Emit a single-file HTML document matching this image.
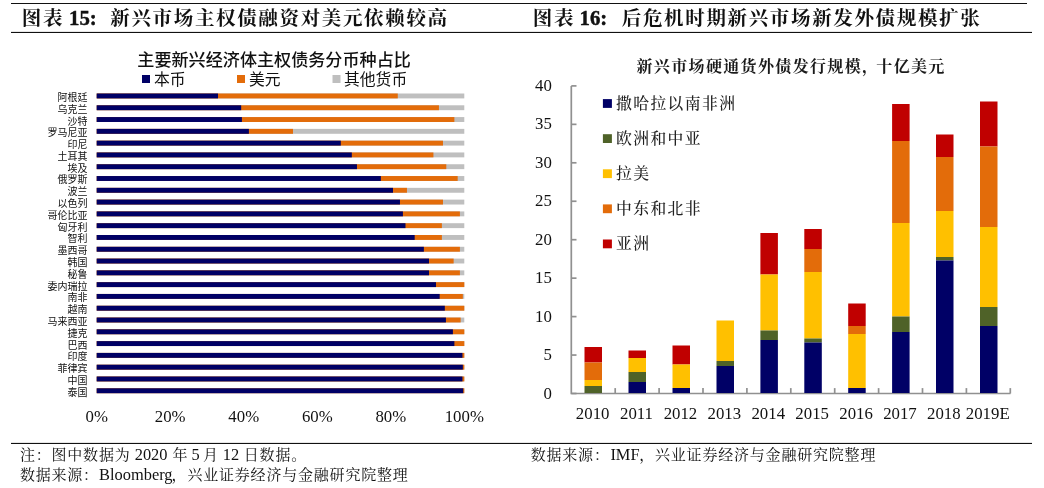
<!DOCTYPE html>
<html lang="zh-CN"><head><meta charset="utf-8"><title>图表 15 / 图表 16</title>
<style>
html,body{margin:0;padding:0;background:#fff;}
body{width:1044px;height:488px;overflow:hidden;position:relative;}
svg{position:absolute;left:0;top:0;display:block;}
.kai{font-family:"Liberation Serif","Noto Serif CJK SC",serif;}
.ttl{font-family:"Liberation Serif","Noto Serif CJK SC",serif;font-weight:700;font-size:19.5px;fill:#111;}
.src{font-family:"Liberation Serif","Noto Serif CJK SC",serif;font-size:15px;fill:#111;}
.hei{font-family:"Liberation Sans","Noto Sans CJK SC",sans-serif;}
.song{font-family:"Liberation Serif","Noto Serif CJK SC",serif;}
.num{font-family:"Liberation Serif",serif;font-size:16.8px;fill:#111;}
.lab{font-family:"Liberation Sans","Noto Sans CJK SC",sans-serif;font-size:10px;fill:#111;}
</style></head><body>
<svg width="1044" height="488" viewBox="0 0 1044 488">
<rect width="1044" height="488" fill="#ffffff"/>
<g fill="#111">
<rect x="11" y="3" width="1016" height="1"/>
<rect x="11" y="31.9" width="1021" height="1.1"/>
<rect x="11" y="442.9" width="1021" height="1.1"/>
</g>
<text class="ttl" x="21.8" y="25.2" letter-spacing="1.65">图表</text>
<text class="ttl" x="69.0" y="25.2" style="font-size:20.8px" stroke="#111" stroke-width="0.45">15:</text>
<text class="ttl" x="110.3" y="25.2" letter-spacing="1.65">新兴市场主权债融资对美元依赖较高</text>
<text class="ttl" x="532.8" y="25.2" letter-spacing="1.65">图表</text>
<text class="ttl" x="579.5" y="25.2" style="font-size:20.8px" stroke="#111" stroke-width="0.45">16:</text>
<text class="ttl" x="621.8" y="25.2" letter-spacing="1.65">后危机时期新兴市场新发外债规模扩张</text>
<text class="src" x="19.9" y="460.2" letter-spacing="0.8">注：</text>
<text class="src" x="51.5" y="460.2" letter-spacing="0.8">图中数据为</text>
<text class="num" x="134.7" y="460.2" style="font-size:16.4px">2020</text>
<text class="src" x="172.4" y="460.2" >年</text>
<text class="num" x="191.5" y="460.2" style="font-size:16.4px">5</text>
<text class="src" x="203" y="460.2" >月</text>
<text class="num" x="222.8" y="460.2" style="font-size:16.4px">12</text>
<text class="src" x="243.8" y="460.2" letter-spacing="0.8">日数据。</text>
<text class="src" x="19.9" y="480.1" letter-spacing="0.8">数据来源：</text>
<text class="num" x="99.1" y="480.1" style="font-size:16.4px">Bloomberg</text>
<text class="src" x="171.6" y="480.1" letter-spacing="0.8">，兴业证券经济与金融研究院整理</text>
<text class="src" x="530.7" y="460.2" letter-spacing="0.8">数据来源：</text>
<text class="num" x="610.4" y="460.2" style="font-size:16.4px">IMF</text>
<text class="src" x="639.2" y="460.2" letter-spacing="0.8">，兴业证券经济与金融研究院整理</text>
<text class="hei" x="274.1" y="65.5" style="font-size:17.1px" font-weight="500" text-anchor="middle" fill="#111">主要新兴经济体主权债务分币种占比</text>
<rect x="142" y="75" width="8" height="8" fill="#000066"/>
<text class="hei" x="154" y="85" style="font-size:15.8px" fill="#111">本币</text>
<rect x="237" y="75" width="8" height="8" fill="#e36c0a"/>
<text class="hei" x="249" y="85" style="font-size:15.8px" fill="#111">美元</text>
<rect x="332.5" y="75" width="8" height="8" fill="#bfbfbf"/>
<text class="hei" x="344" y="85" style="font-size:15.8px" fill="#111">其他货币</text>
<rect x="96.70" y="93.50" width="367.60" height="4.9" fill="#bfbfbf"/>
<rect x="96.70" y="93.50" width="301.06" height="4.9" fill="#e36c0a"/>
<rect x="96.70" y="93.50" width="121.31" height="4.9" fill="#000066"/>
<text class="lab" x="87.5" y="100.95" text-anchor="end">阿根廷</text>
<rect x="96.70" y="105.29" width="367.60" height="4.9" fill="#bfbfbf"/>
<rect x="96.70" y="105.29" width="342.24" height="4.9" fill="#e36c0a"/>
<rect x="96.70" y="105.29" width="144.47" height="4.9" fill="#000066"/>
<text class="lab" x="87.5" y="112.74" text-anchor="end">乌克兰</text>
<rect x="96.70" y="117.08" width="367.60" height="4.9" fill="#bfbfbf"/>
<rect x="96.70" y="117.08" width="357.67" height="4.9" fill="#e36c0a"/>
<rect x="96.70" y="117.08" width="145.20" height="4.9" fill="#000066"/>
<text class="lab" x="87.5" y="124.53" text-anchor="end">沙特</text>
<rect x="96.70" y="128.88" width="367.60" height="4.9" fill="#bfbfbf"/>
<rect x="96.70" y="128.88" width="196.30" height="4.9" fill="#e36c0a"/>
<rect x="96.70" y="128.88" width="152.19" height="4.9" fill="#000066"/>
<text class="lab" x="87.5" y="136.33" text-anchor="end">罗马尼亚</text>
<rect x="96.70" y="140.67" width="367.60" height="4.9" fill="#bfbfbf"/>
<rect x="96.70" y="140.67" width="346.28" height="4.9" fill="#e36c0a"/>
<rect x="96.70" y="140.67" width="244.09" height="4.9" fill="#000066"/>
<text class="lab" x="87.5" y="148.12" text-anchor="end">印尼</text>
<rect x="96.70" y="152.46" width="367.60" height="4.9" fill="#bfbfbf"/>
<rect x="96.70" y="152.46" width="336.72" height="4.9" fill="#e36c0a"/>
<rect x="96.70" y="152.46" width="255.11" height="4.9" fill="#000066"/>
<text class="lab" x="87.5" y="159.91" text-anchor="end">土耳其</text>
<rect x="96.70" y="164.25" width="367.60" height="4.9" fill="#bfbfbf"/>
<rect x="96.70" y="164.25" width="349.59" height="4.9" fill="#e36c0a"/>
<rect x="96.70" y="164.25" width="260.26" height="4.9" fill="#000066"/>
<text class="lab" x="87.5" y="171.70" text-anchor="end">埃及</text>
<rect x="96.70" y="176.04" width="367.60" height="4.9" fill="#bfbfbf"/>
<rect x="96.70" y="176.04" width="360.98" height="4.9" fill="#e36c0a"/>
<rect x="96.70" y="176.04" width="284.15" height="4.9" fill="#000066"/>
<text class="lab" x="87.5" y="183.49" text-anchor="end">俄罗斯</text>
<rect x="96.70" y="187.84" width="367.60" height="4.9" fill="#bfbfbf"/>
<rect x="96.70" y="187.84" width="310.25" height="4.9" fill="#e36c0a"/>
<rect x="96.70" y="187.84" width="296.29" height="4.9" fill="#000066"/>
<text class="lab" x="87.5" y="195.29" text-anchor="end">波兰</text>
<rect x="96.70" y="199.63" width="367.60" height="4.9" fill="#bfbfbf"/>
<rect x="96.70" y="199.63" width="346.28" height="4.9" fill="#e36c0a"/>
<rect x="96.70" y="199.63" width="303.27" height="4.9" fill="#000066"/>
<text class="lab" x="87.5" y="207.08" text-anchor="end">以色列</text>
<rect x="96.70" y="211.42" width="367.60" height="4.9" fill="#bfbfbf"/>
<rect x="96.70" y="211.42" width="363.19" height="4.9" fill="#e36c0a"/>
<rect x="96.70" y="211.42" width="306.21" height="4.9" fill="#000066"/>
<text class="lab" x="87.5" y="218.87" text-anchor="end">哥伦比亚</text>
<rect x="96.70" y="223.21" width="367.60" height="4.9" fill="#bfbfbf"/>
<rect x="96.70" y="223.21" width="345.18" height="4.9" fill="#e36c0a"/>
<rect x="96.70" y="223.21" width="308.78" height="4.9" fill="#000066"/>
<text class="lab" x="87.5" y="230.66" text-anchor="end">匈牙利</text>
<rect x="96.70" y="235.00" width="367.60" height="4.9" fill="#bfbfbf"/>
<rect x="96.70" y="235.00" width="345.18" height="4.9" fill="#e36c0a"/>
<rect x="96.70" y="235.00" width="317.97" height="4.9" fill="#000066"/>
<text class="lab" x="87.5" y="242.45" text-anchor="end">智利</text>
<rect x="96.70" y="246.80" width="367.60" height="4.9" fill="#bfbfbf"/>
<rect x="96.70" y="246.80" width="363.19" height="4.9" fill="#e36c0a"/>
<rect x="96.70" y="246.80" width="327.16" height="4.9" fill="#000066"/>
<text class="lab" x="87.5" y="254.25" text-anchor="end">墨西哥</text>
<rect x="96.70" y="258.59" width="367.60" height="4.9" fill="#bfbfbf"/>
<rect x="96.70" y="258.59" width="356.94" height="4.9" fill="#e36c0a"/>
<rect x="96.70" y="258.59" width="332.31" height="4.9" fill="#000066"/>
<text class="lab" x="87.5" y="266.04" text-anchor="end">韩国</text>
<rect x="96.70" y="270.38" width="367.60" height="4.9" fill="#bfbfbf"/>
<rect x="96.70" y="270.38" width="363.19" height="4.9" fill="#e36c0a"/>
<rect x="96.70" y="270.38" width="332.31" height="4.9" fill="#000066"/>
<text class="lab" x="87.5" y="277.83" text-anchor="end">秘鲁</text>
<rect x="96.70" y="282.17" width="367.60" height="4.9" fill="#bfbfbf"/>
<rect x="96.70" y="282.17" width="367.60" height="4.9" fill="#e36c0a"/>
<rect x="96.70" y="282.17" width="339.29" height="4.9" fill="#000066"/>
<text class="lab" x="87.5" y="289.62" text-anchor="end">委内瑞拉</text>
<rect x="96.70" y="293.96" width="367.60" height="4.9" fill="#bfbfbf"/>
<rect x="96.70" y="293.96" width="366.13" height="4.9" fill="#e36c0a"/>
<rect x="96.70" y="293.96" width="342.97" height="4.9" fill="#000066"/>
<text class="lab" x="87.5" y="301.41" text-anchor="end">南非</text>
<rect x="96.70" y="305.76" width="367.60" height="4.9" fill="#bfbfbf"/>
<rect x="96.70" y="305.76" width="367.60" height="4.9" fill="#e36c0a"/>
<rect x="96.70" y="305.76" width="348.12" height="4.9" fill="#000066"/>
<text class="lab" x="87.5" y="313.21" text-anchor="end">越南</text>
<rect x="96.70" y="317.55" width="367.60" height="4.9" fill="#bfbfbf"/>
<rect x="96.70" y="317.55" width="363.92" height="4.9" fill="#e36c0a"/>
<rect x="96.70" y="317.55" width="349.22" height="4.9" fill="#000066"/>
<text class="lab" x="87.5" y="325.00" text-anchor="end">马来西亚</text>
<rect x="96.70" y="329.34" width="367.60" height="4.9" fill="#bfbfbf"/>
<rect x="96.70" y="329.34" width="367.60" height="4.9" fill="#e36c0a"/>
<rect x="96.70" y="329.34" width="356.20" height="4.9" fill="#000066"/>
<text class="lab" x="87.5" y="336.79" text-anchor="end">捷克</text>
<rect x="96.70" y="341.13" width="367.60" height="4.9" fill="#bfbfbf"/>
<rect x="96.70" y="341.13" width="367.60" height="4.9" fill="#e36c0a"/>
<rect x="96.70" y="341.13" width="357.67" height="4.9" fill="#000066"/>
<text class="lab" x="87.5" y="348.58" text-anchor="end">巴西</text>
<rect x="96.70" y="352.92" width="367.60" height="4.9" fill="#bfbfbf"/>
<rect x="96.70" y="352.92" width="367.60" height="4.9" fill="#e36c0a"/>
<rect x="96.70" y="352.92" width="365.76" height="4.9" fill="#000066"/>
<text class="lab" x="87.5" y="360.37" text-anchor="end">印度</text>
<rect x="96.70" y="364.72" width="367.60" height="4.9" fill="#bfbfbf"/>
<rect x="96.70" y="364.72" width="367.60" height="4.9" fill="#e36c0a"/>
<rect x="96.70" y="364.72" width="366.13" height="4.9" fill="#000066"/>
<text class="lab" x="87.5" y="372.17" text-anchor="end">菲律宾</text>
<rect x="96.70" y="376.51" width="367.60" height="4.9" fill="#bfbfbf"/>
<rect x="96.70" y="376.51" width="367.60" height="4.9" fill="#e36c0a"/>
<rect x="96.70" y="376.51" width="365.76" height="4.9" fill="#000066"/>
<text class="lab" x="87.5" y="383.96" text-anchor="end">中国</text>
<rect x="96.70" y="388.30" width="367.60" height="4.9" fill="#bfbfbf"/>
<rect x="96.70" y="388.30" width="367.60" height="4.9" fill="#e36c0a"/>
<rect x="96.70" y="388.30" width="366.50" height="4.9" fill="#000066"/>
<text class="lab" x="87.5" y="395.75" text-anchor="end">泰国</text>
<text class="num" x="96.70" y="422" text-anchor="middle" style="font-size:16.8px">0%</text>
<text class="num" x="170.22" y="422" text-anchor="middle" style="font-size:16.8px">20%</text>
<text class="num" x="243.74" y="422" text-anchor="middle" style="font-size:16.8px">40%</text>
<text class="num" x="317.26" y="422" text-anchor="middle" style="font-size:16.8px">60%</text>
<text class="num" x="390.78" y="422" text-anchor="middle" style="font-size:16.8px">80%</text>
<text class="num" x="464.30" y="422" text-anchor="middle" style="font-size:16.8px">100%</text>
<text class="song" x="636.5" y="72.4" style="font-size:16px" font-weight="700" letter-spacing="1.35" fill="#1a1a1a">新兴市场硬通货外债发行规模，</text>
<text class="song" x="876.3" y="72.4" style="font-size:16px" font-weight="700" letter-spacing="1.35" fill="#1a1a1a">十亿美元</text>
<g stroke="#909090" stroke-width="1.7" fill="none">
<path d="M571.3 85.90V393.5H1010.5"/>
<path d="M571.3 393.50h5.2"/>
<path d="M571.3 355.05h5.2"/>
<path d="M571.3 316.60h5.2"/>
<path d="M571.3 278.15h5.2"/>
<path d="M571.3 239.70h5.2"/>
<path d="M571.3 201.25h5.2"/>
<path d="M571.3 162.80h5.2"/>
<path d="M571.3 124.35h5.2"/>
<path d="M571.3 85.90h5.2"/>
<path d="M615.20 393.5v-5.4"/>
<path d="M659.10 393.5v-5.4"/>
<path d="M703.00 393.5v-5.4"/>
<path d="M746.90 393.5v-5.4"/>
<path d="M790.80 393.5v-5.4"/>
<path d="M834.70 393.5v-5.4"/>
<path d="M878.60 393.5v-5.4"/>
<path d="M922.50 393.5v-5.4"/>
<path d="M966.40 393.5v-5.4"/>
<path d="M1010.30 393.5v-5.4"/>
</g>
<text class="num" x="551.9" y="398.50" text-anchor="end">0</text>
<text class="num" x="551.9" y="360.05" text-anchor="end">5</text>
<text class="num" x="551.9" y="321.60" text-anchor="end">10</text>
<text class="num" x="551.9" y="283.15" text-anchor="end">15</text>
<text class="num" x="551.9" y="244.70" text-anchor="end">20</text>
<text class="num" x="551.9" y="206.25" text-anchor="end">25</text>
<text class="num" x="551.9" y="167.80" text-anchor="end">30</text>
<text class="num" x="551.9" y="129.35" text-anchor="end">35</text>
<text class="num" x="551.9" y="90.90" text-anchor="end">40</text>
<rect x="584.5" y="347" width="17.5" height="15.50" fill="#c00000"/>
<rect x="584.5" y="362.5" width="17.5" height="17.50" fill="#e36c0a"/>
<rect x="584.5" y="380" width="17.5" height="6.00" fill="#ffc000"/>
<rect x="584.5" y="386" width="17.5" height="7.00" fill="#4f6228"/>
<text class="num" x="592.65" y="419" text-anchor="middle">2010</text>
<rect x="628.5" y="350.5" width="17.5" height="7.50" fill="#c00000"/>
<rect x="628.5" y="358" width="17.5" height="14.00" fill="#ffc000"/>
<rect x="628.5" y="372" width="17.5" height="10.00" fill="#4f6228"/>
<rect x="628.5" y="382" width="17.5" height="11.00" fill="#000066"/>
<text class="num" x="636.55" y="419" text-anchor="middle">2011</text>
<rect x="672.5" y="345.5" width="17.5" height="19.00" fill="#c00000"/>
<rect x="672.5" y="364.5" width="17.5" height="23.50" fill="#ffc000"/>
<rect x="672.5" y="388" width="17.5" height="5.00" fill="#000066"/>
<text class="num" x="680.45" y="419" text-anchor="middle">2012</text>
<rect x="716.5" y="320.5" width="17.5" height="40.50" fill="#ffc000"/>
<rect x="716.5" y="361" width="17.5" height="5.00" fill="#4f6228"/>
<rect x="716.5" y="366" width="17.5" height="27.00" fill="#000066"/>
<text class="num" x="724.35" y="419" text-anchor="middle">2013</text>
<rect x="760.4" y="233" width="17.5" height="41.50" fill="#c00000"/>
<rect x="760.4" y="274.5" width="17.5" height="56.00" fill="#ffc000"/>
<rect x="760.4" y="330.5" width="17.5" height="9.50" fill="#4f6228"/>
<rect x="760.4" y="340" width="17.5" height="53.00" fill="#000066"/>
<text class="num" x="768.25" y="419" text-anchor="middle">2014</text>
<rect x="804.3" y="229" width="17.5" height="20.00" fill="#c00000"/>
<rect x="804.3" y="249" width="17.5" height="23.00" fill="#e36c0a"/>
<rect x="804.3" y="272" width="17.5" height="66.50" fill="#ffc000"/>
<rect x="804.3" y="338.5" width="17.5" height="4.00" fill="#4f6228"/>
<rect x="804.3" y="342.5" width="17.5" height="50.50" fill="#000066"/>
<text class="num" x="812.15" y="419" text-anchor="middle">2015</text>
<rect x="848.2" y="303.5" width="17.5" height="22.50" fill="#c00000"/>
<rect x="848.2" y="326" width="17.5" height="8.00" fill="#e36c0a"/>
<rect x="848.2" y="334" width="17.5" height="54.00" fill="#ffc000"/>
<rect x="848.2" y="388" width="17.5" height="5.00" fill="#000066"/>
<text class="num" x="856.05" y="419" text-anchor="middle">2016</text>
<rect x="892.1" y="104" width="17.5" height="37.00" fill="#c00000"/>
<rect x="892.1" y="141" width="17.5" height="82.00" fill="#e36c0a"/>
<rect x="892.1" y="223" width="17.5" height="93.50" fill="#ffc000"/>
<rect x="892.1" y="316.5" width="17.5" height="15.50" fill="#4f6228"/>
<rect x="892.1" y="332" width="17.5" height="61.00" fill="#000066"/>
<text class="num" x="899.95" y="419" text-anchor="middle">2017</text>
<rect x="936" y="134.5" width="17.5" height="22.50" fill="#c00000"/>
<rect x="936" y="157" width="17.5" height="54.00" fill="#e36c0a"/>
<rect x="936" y="211" width="17.5" height="46.00" fill="#ffc000"/>
<rect x="936" y="257" width="17.5" height="3.50" fill="#4f6228"/>
<rect x="936" y="260.5" width="17.5" height="132.50" fill="#000066"/>
<text class="num" x="943.85" y="419" text-anchor="middle">2018</text>
<rect x="980" y="101.5" width="17.5" height="45.00" fill="#c00000"/>
<rect x="980" y="146.5" width="17.5" height="80.50" fill="#e36c0a"/>
<rect x="980" y="227" width="17.5" height="80.00" fill="#ffc000"/>
<rect x="980" y="307" width="17.5" height="19.00" fill="#4f6228"/>
<rect x="980" y="326" width="17.5" height="67.00" fill="#000066"/>
<text class="num" x="987.75" y="419" text-anchor="middle">2019E</text>
<rect x="602.9" y="99.10" width="9" height="8.8" fill="#000066"/>
<text class="song" x="616" y="108.90" style="font-size:15.8px" font-weight="500" letter-spacing="1.4" fill="#222">撒哈拉以南非洲</text>
<rect x="602.9" y="134.20" width="9" height="8.8" fill="#4f6228"/>
<text class="song" x="616" y="144.00" style="font-size:15.8px" font-weight="500" letter-spacing="1.4" fill="#222">欧洲和中亚</text>
<rect x="602.9" y="169.30" width="9" height="8.8" fill="#ffc000"/>
<text class="song" x="616" y="179.10" style="font-size:15.8px" font-weight="500" letter-spacing="1.4" fill="#222">拉美</text>
<rect x="602.9" y="204.40" width="9" height="8.8" fill="#e36c0a"/>
<text class="song" x="616" y="214.20" style="font-size:15.8px" font-weight="500" letter-spacing="1.4" fill="#222">中东和北非</text>
<rect x="602.9" y="239.50" width="9" height="8.8" fill="#c00000"/>
<text class="song" x="616" y="249.30" style="font-size:15.8px" font-weight="500" letter-spacing="1.4" fill="#222">亚洲</text>
</svg>
</body></html>
